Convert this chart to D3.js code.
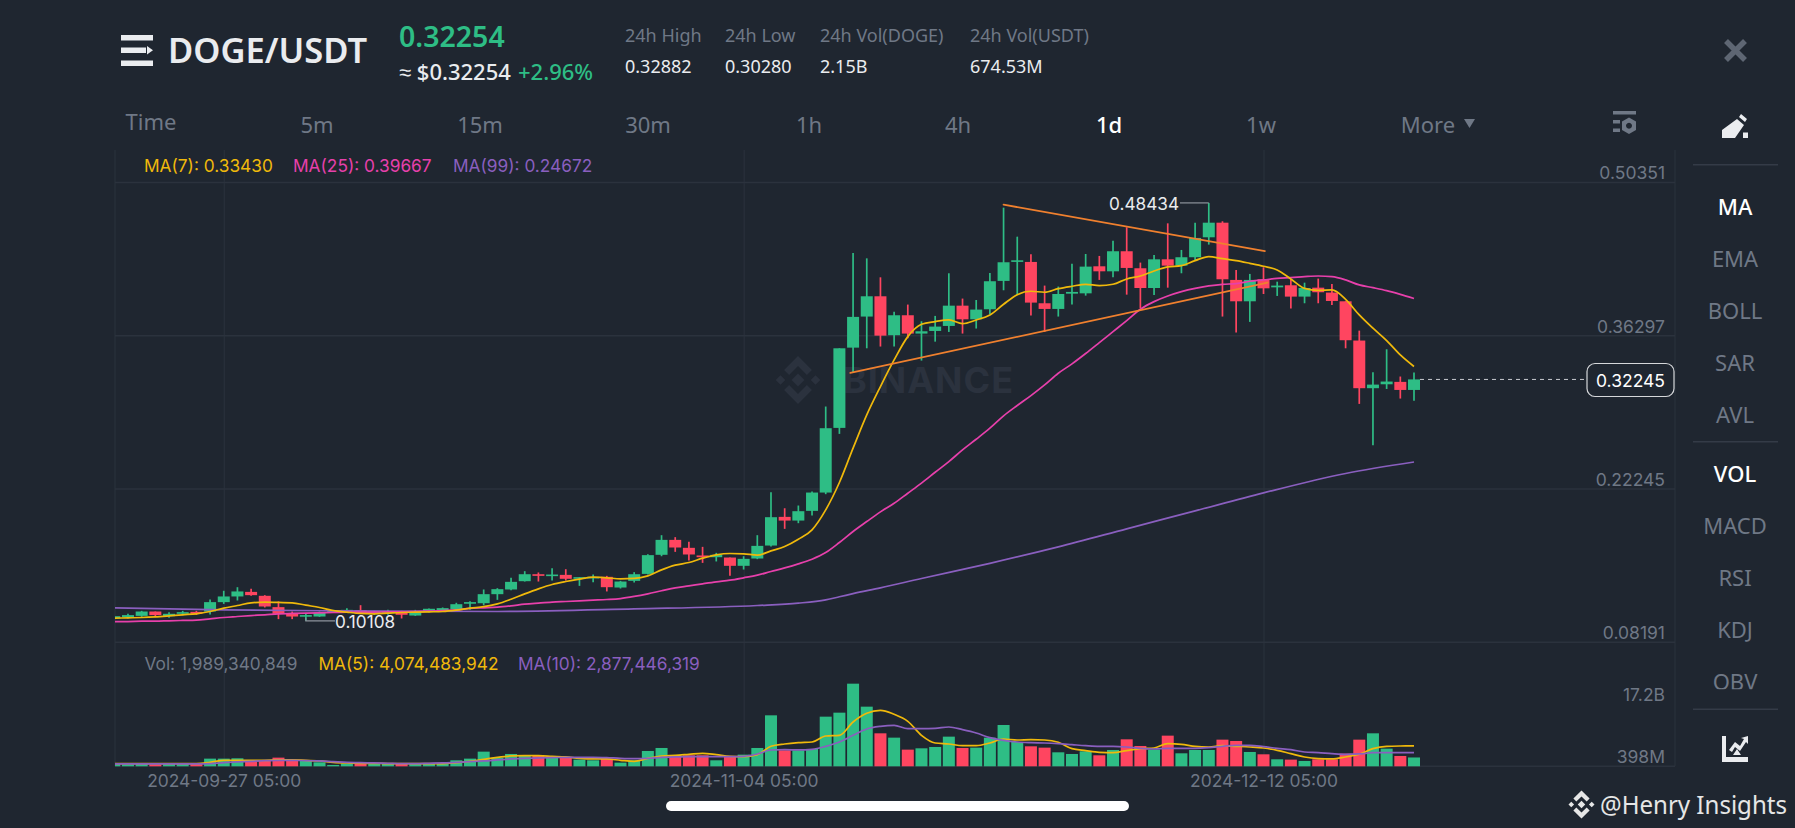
<!DOCTYPE html>
<html>
<head>
<meta charset="utf-8">
<script src="https://cdn.jsdelivr.net/npm/d3@7"></script>
<style>
  html, body { margin: 0; padding: 0; background: #1f2630; overflow: hidden; }
  text { font-family: "Noto Sans", sans-serif; }
  .chartfont text, text.chartfont { font-family: Inter, sans-serif; }
</style>
</head>
<body>
<div id="chart"></div>
<script>
// daily candles, 2024-09-19 to 2024-12-23
const opens = [.1032,.1044,.1056,.1096,.1053,.1075,.1093,.1096,.1182,.1234,.1276,.1240,.1136,.1075,.1050,.1050,
  .1093,.1093,.1108,.1084,.1087,.1087,.1059,.1102,.1102,.1117,.1169,.1172,.1255,.1298,.1374,.1438,
  .1426,.1432,.1399,.1405,.1414,.1316,.1377,.1441,.1616,.1753,.1680,.1610,.1594,.1591,.1515,.1582,
  .1701,.1964,.1930,.2019,.2187,.2780,.3516,.3801,.3987,.3630,.3813,.3645,.3669,.3715,.3901,.3776,
  .3868,.4128,.4305,.4302,.3923,.3871,.4011,.4014,.4262,.4216,.4400,.4244,.4063,.4326,.4268,.4345,
  .4528,.4662,.4137,.3941,.4143,.4069,.4088,.3984,.4066,.4021,.3941,.3581,.3144,.3180,.3202,.3128];
const highs = [.1053,.1075,.1102,.1096,.1090,.1102,.1102,.1206,.1286,.1319,.1304,.1246,.1188,.1096,.1075,.1096,
  .1111,.1127,.1154,.1102,.1111,.1102,.1111,.1124,.1133,.1176,.1191,.1298,.1310,.1405,.1466,.1454,
  .1493,.1484,.1411,.1435,.1423,.1377,.1457,.1622,.1796,.1778,.1735,.1689,.1634,.1591,.1603,.1796,
  .2190,.2043,.2068,.2196,.2976,.3510,.4384,.4335,.4161,.3846,.3911,.3758,.3807,.4198,.3966,.3953,
  .4201,.4800,.4534,.4372,.4085,.4076,.4286,.4375,.4357,.4497,.4620,.4296,.4366,.4656,.4412,.4662,
  .48434,.4675,.4228,.4192,.4253,.4121,.4143,.4112,.4149,.4100,.3941,.3672,.3290,.3501,.3251,.32882];
const lows = [.1020,.1032,.1047,.1044,.1038,.1063,.1066,.1069,.1166,.1197,.1240,.1133,.1026,.1026,.10108,.1047,
  .1087,.1087,.1072,.1066,.1066,.1032,.1056,.1087,.1093,.1102,.1111,.1154,.1203,.1292,.1371,.1371,
  .1380,.1380,.1331,.1365,.1280,.1307,.1362,.1435,.1603,.1643,.1564,.1542,.1555,.1423,.1481,.1576,
  .1692,.1854,.1906,.1976,.2172,.2725,.3287,.3510,.3526,.3526,.3602,.3397,.3571,.3660,.3645,.3691,
  .3825,.4042,.3999,.3810,.3660,.3801,.3911,.3993,.4137,.4161,.4002,.3877,.3999,.4066,.4198,.4320,
  .4461,.3801,.3654,.3752,.4008,.3990,.3874,.3923,.3923,.3908,.3510,.3000,.2621,.3137,.3049,.30280];
const closes = [.1053,.1063,.1096,.1063,.1075,.1090,.1075,.1182,.1234,.1280,.1246,.1142,.1075,.1050,.1063,.1087,
  .1102,.1111,.1090,.1093,.1099,.1066,.1096,.1121,.1127,.1163,.1182,.1255,.1301,.1368,.1438,.1423,
  .1435,.1396,.1411,.1414,.1319,.1371,.1438,.1613,.1753,.1683,.1619,.1594,.1616,.1515,.1579,.1698,
  .1961,.1930,.2016,.2187,.2777,.3510,.3798,.3987,.3626,.3813,.3645,.3666,.3709,.3901,.3776,.3865,
  .4125,.4299,.4317,.3929,.3871,.4008,.4027,.4259,.4216,.4400,.4247,.4063,.4326,.4268,.4345,.4522,
  .4662,.4143,.3941,.4137,.4060,.4085,.3984,.4063,.4024,.3944,.3584,.3144,.3177,.3205,.3128,.32245];

// price moving averages
const ma7 = [.1035,.1038,.1041,.1047,.1056,.1066,.1075,.1096,.1127,.1151,.1176,.1182,.1179,.1176,.1154,.1133,
  .1105,.1090,.1078,.1075,.1081,.1087,.1090,.1093,.1096,.1108,.1127,.1140,.1166,.1209,.1258,.1304,
  .1344,.1371,.1393,.1411,.1405,.1396,.1399,.1423,.1478,.1521,.1545,.1585,.1616,.1628,.1625,.1613,
  .1652,.1692,.1759,.1845,.2028,.2279,.2594,.2899,.3159,.3403,.3617,.3730,.3755,.3770,.3736,.3770,
  .3816,.3914,.4002,.4033,.4024,.4057,.4079,.4097,.4085,.4097,.4146,.4173,.4219,.4256,.4268,.4314,
  .4351,.4332,.4314,.4289,.4262,.4228,.4146,.4060,.4042,.4045,.3959,.3816,.3694,.3581,.3449,.3343];
const ma25 = [.1004,.1004,.1007,.1007,.1011,.1014,.1017,.1029,.1041,.1050,.1059,.1066,.1075,.1078,.1081,.1084,
  .1087,.1090,.1090,.1090,.1093,.1093,.1096,.1099,.1105,.1111,.1124,.1130,.1136,.1148,.1163,.1173,
  .1182,.1188,.1194,.1200,.1206,.1215,.1234,.1258,.1286,.1313,.1331,.1350,.1368,.1383,.1405,.1429,
  .1463,.1496,.1533,.1576,.1637,.1729,.1830,.1921,.2010,.2089,.2181,.2273,.2373,.2471,.2578,.2676,
  .2777,.2890,.2985,.3076,.3174,.3281,.3367,.3462,.3562,.3663,.3764,.3868,.3938,.3990,.4030,.4060,
  .4082,.4097,.4103,.4125,.4137,.4152,.4158,.4167,.4173,.4167,.4137,.4091,.4066,.4039,.4005,.39667];
const ma99Days = [0,8,16,28,38,47,50,52,53,54,56,59,64,69,74,79,84,90,95];
const ma99 = [.1130,.1111,.1102,.1096,.1120,.1151,.1173,.1203,.1231,.1260,.1313,.1399,.1538,.1689,.1854,.2019,.2184,.2362,.24672];

// drawn trend lines: [candle, price]
const trendUpper = [[65, .4827], [84.1, .4402]];
const trendLower = [[53.8, .3284], [84.3, .4112]];

// volume in billions
const volumes = [.818,.758,.818,.758,.818,.818,.818,1.778,1.778,1.838,1.238,1.358,1.958,1.358,1.358,1.118,
  .638,.878,.938,.938,.878,.938,.938,.878,.878,1.478,1.778,3.038,1.958,2.618,2.378,2.258,
  2.198,1.958,1.598,1.478,1.778,1.058,1.478,3.158,3.698,2.378,2.378,2.378,1.478,2.078,2.498,3.698,
  9.578,3.278,3.278,3.518,9.338,10.058,15.278,11.138,6.338,5.558,3.398,3.638,3.878,5.738,3.698,3.758,
  5.558,7.838,4.778,3.998,3.758,2.918,2.618,3.098,2.378,3.338,5.258,4.058,3.398,5.918,2.738,3.338,
  3.338,5.198,4.958,2.978,2.558,1.658,1.598,1.358,1.658,1.658,2.678,5.198,6.338,3.578,2.258,1.989];
const volMa5 = [.878,.878,.878,.878,.878,.878,.878,1.118,1.478,1.478,1.478,1.478,1.538,1.538,1.478,1.358,
  1.118,.998,.938,.938,.878,.878,.878,.878,.878,1.058,1.298,1.658,2.018,2.258,2.318,2.318,
  2.198,2.078,1.838,1.718,1.718,1.478,1.298,1.838,2.258,2.378,2.558,2.738,2.498,2.198,2.138,2.498,
  3.998,4.418,4.658,4.778,5.858,5.978,8.378,9.938,10.478,9.758,8.498,5.978,4.598,4.418,4.118,4.118,
  4.598,5.318,5.138,5.198,5.138,4.718,3.578,3.218,2.918,2.858,3.218,3.578,3.698,4.478,4.358,3.998,
  3.878,4.118,3.998,3.878,3.698,3.278,2.678,2.078,1.778,1.718,2.078,2.558,3.578,3.998,4.058,4.074];
const volMa10 = [.818,.818,.818,.818,.818,.818,.818,.878,1.058,1.178,1.298,1.418,1.478,1.478,1.418,1.358,
  1.238,1.118,1.058,.998,.938,.878,.878,.938,.998,1.118,1.238,1.358,1.538,1.718,1.838,1.898,
  1.958,2.018,2.018,2.018,1.958,1.838,1.778,1.838,2.018,2.078,2.138,2.138,2.138,2.138,2.198,2.618,
  3.338,3.398,3.338,3.458,3.998,4.778,5.978,7.118,7.598,7.778,7.178,7.178,7.238,7.478,6.998,6.398,
  5.558,5.078,4.778,4.658,4.598,4.478,4.298,4.118,3.998,3.998,3.878,3.638,3.518,3.638,3.638,3.638,
  3.758,3.998,4.178,4.178,3.938,3.638,3.398,2.978,2.858,2.678,2.558,2.618,2.858,2.858,2.858,2.877];

// axis ticks and labels
const priceTicks = [.50351, .36297, .22245, .08191];
const dateDays = [8, 46, 84];
const dateLabels = ["2024-09-27 05:00", "2024-11-04 05:00", "2024-12-12 05:00"];
const lastPrice = .32245;

const tabNames = ["Time", "5m", "15m", "30m", "1h", "4h", "1d", "1w", "More"];
const tabCentres = [151, 317, 480, 648, 809, 958, 1109, 1261, 1428];
const sideTop = ["MA", "EMA", "BOLL", "SAR", "AVL"];
const sideBottom = ["VOL", "MACD", "RSI", "KDJ", "OBV"];
const statNames = ["24h High", "24h Low", "24h Vol(DOGE)", "24h Vol(USDT)"];
const statValues = ["0.32882", "0.30280", "2.15B", "674.53M"];
const statLeft = [625, 725, 820, 970];

const bg = "#1f2630", grid = "#2b323d", muted = "#6f7886", up = "#2ebd85", down = "#ff4560";
const cMa7 = "#f0b90b", cMa25 = "#e740ab", cMa99 = "#8a5fbf", cTrend = "#f0802e";

const svg = d3.select("#chart").append("svg").attr("width", 1795).attr("height", 828)
    .style("display", "block").style("background", bg);

// scales
const left = 115, right = 1675;
const x = d3.scaleLinear().domain([0, 95]).range([114.3, 1414]);
const y = d3.scaleLinear().domain([.08191, .50351]).range([641.7, 182]);
const yVol = d3.scaleLinear().domain([.398, 17.2]).range([766.3, 673]);

svg.append("defs").append("clipPath").attr("id", "pane").append("rect")
    .attr("x", left).attr("y", 150).attr("width", right - left).attr("height", 620);

// binance logo is used twice
function logo(g, cx, cy, r, color) {
    const s = g.append("g").attr("transform", `translate(${cx},${cy}) scale(${r})`).attr("fill", color);
    s.append("path").attr("d", "M0,-.27L.27,0L0,.27L-.27,0Z");
    s.append("path").attr("d", "M-.73,-.2L-.53,0L-.73,.2L-.93,0Z");
    s.append("path").attr("d", "M.73,-.2L.93,0L.73,.2L.53,0Z");
    s.append("path").attr("d", "M0,-1L.58,-.42L.37,-.21L0,-.58L-.37,-.21L-.58,-.42Z");
    s.append("path").attr("d", "M0,1L.58,.42L.37,.21L0,.58L-.37,.21L-.58,.42Z");
}

// watermark
logo(svg, 798, 380, 24, "#2b323e");
svg.append("text").attr("x", 843).attr("y", 393).attr("fill", "#2b323e")
    .attr("font-size", 36).attr("font-weight", 700).attr("textLength", 170)
    .style("font-family", "Inter").text("BINANCE");

// vertical grid + date labels
const xAxis = d3.axisBottom(x).tickValues(dateDays).tickSize(-616)
    .tickFormat((d, i) => dateLabels[i]);
const xg = svg.append("g").attr("class", "chartfont").attr("transform", "translate(0,766)").call(xAxis);
xg.select(".domain").remove();
xg.selectAll("line").attr("stroke", grid).attr("stroke-width", 1);
xg.selectAll("text").attr("fill", muted).attr("font-size", 17.4).attr("y", 5).attr("dy", "0.9em");

svg.selectAll(".edge").data([left, right]).join("line").attr("class", "edge")
    .attr("x1", d => d).attr("x2", d => d).attr("y1", 150).attr("y2", 766)
    .attr("stroke", grid);

// horizontal grid + price labels
const yAxis = d3.axisLeft(y).tickValues(priceTicks).tickSize(right - left)
    .tickFormat(d3.format(".5f"));
const yg = svg.append("g").attr("class", "chartfont").attr("transform", `translate(${right},0)`).call(yAxis);
yg.select(".domain").remove();
yg.selectAll("line").attr("stroke", grid).attr("stroke-width", 1.5);
yg.selectAll("text").attr("fill", muted).attr("font-size", 17.5).attr("x", -10).attr("dy", "-0.18em");

// volume baseline
svg.append("line").attr("x1", left).attr("x2", right).attr("y1", yVol(.398)).attr("y2", yVol(.398))
    .attr("stroke", grid).attr("stroke-width", 1.5);
svg.selectAll(".volTick").data(["17.2B", "398M"]).join("text").attr("class", "volTick chartfont")
    .attr("x", 1665).attr("y", (d, i) => i ? yVol(.398) - 3.5 : 701).attr("text-anchor", "end")
    .attr("fill", muted).attr("font-size", 17.5).text(d => d);

const pane = svg.append("g").attr("clip-path", "url(#pane)");
const idx = d3.range(closes.length);
const colour = i => closes[i] >= opens[i] ? up : down;

// candles
pane.selectAll(".wick").data(idx).join("line").attr("class", "wick")
    .attr("x1", x).attr("x2", x).attr("y1", i => y(highs[i])).attr("y2", i => y(lows[i]))
    .attr("stroke", colour).attr("stroke-width", 1.7);
pane.selectAll(".body").data(idx).join("rect").attr("class", "body")
    .attr("x", i => x(i) - 6).attr("width", 12)
    .attr("y", i => y(Math.max(opens[i], closes[i])))
    .attr("height", i => Math.max(1.6, Math.abs(y(opens[i]) - y(closes[i]))))
    .attr("fill", colour);

// volume bars
pane.selectAll(".vol").data(idx).join("rect").attr("class", "vol")
    .attr("x", i => x(i) - 6).attr("width", 12)
    .attr("y", i => yVol(volumes[i]))
    .attr("height", i => yVol(.398) - yVol(volumes[i]))
    .attr("fill", colour);

// moving average lines
const lineOf = (scale, xs) => d3.line().x((d, i) => x(xs ? xs[i] : i)).y(d => scale(d)).curve(d3.curveMonotoneX);
function addLine(values, scale, color, xs) {
    pane.append("path").datum(values).attr("d", lineOf(scale, xs)).attr("fill", "none")
        .attr("stroke", color).attr("stroke-width", 1.7).attr("stroke-linejoin", "round");
}
addLine(ma99, y, cMa99, ma99Days);
addLine(ma25, y, cMa25);
addLine(ma7, y, cMa7);
addLine(volMa5, yVol, cMa7);
addLine(volMa10, yVol, cMa99);

// trend lines
[trendUpper, trendLower].forEach(t => {
    pane.append("line").attr("x1", x(t[0][0])).attr("y1", y(t[0][1])).attr("x2", x(t[1][0])).attr("y2", y(t[1][1]))
        .attr("stroke", cTrend).attr("stroke-width", 1.8).attr("stroke-linecap", "round");
});

// high / low markers
svg.append("path").attr("fill", "none").attr("stroke", "#8d939c").attr("stroke-width", 1.2)
    .attr("d", `M1180,${y(.48434)}H${x(80)}`);
svg.append("path").attr("fill", "none").attr("stroke", "#8d939c").attr("stroke-width", 1.2)
    .attr("d", `M${x(14)},${y(.10108) - 3}V${y(.10108)}H335`);
svg.append("text").attr("class", "chartfont").attr("x", 1179).attr("y", 204).attr("dy", "0.35em")
    .attr("text-anchor", "end").attr("fill", "#eaecef").attr("font-size", 17.2).text("0.48434");
svg.append("text").attr("class", "chartfont").attr("x", 335).attr("y", 622).attr("dy", "0.35em")
    .attr("fill", "#eaecef").attr("font-size", 17.2).text("0.10108");

// last price
svg.append("line").attr("x1", x(95) + 6).attr("x2", 1587).attr("y1", y(lastPrice)).attr("y2", y(lastPrice))
    .attr("stroke", "#c9ccd1").attr("stroke-width", 1).attr("stroke-dasharray", "4 4");
svg.append("rect").attr("x", 1587).attr("y", 363.5).attr("width", 87).attr("height", 33).attr("rx", 8)
    .attr("fill", bg).attr("stroke", "#d5d7da").attr("stroke-width", 1.2);
svg.append("text").attr("class", "chartfont").attr("x", 1630.5).attr("y", 380.5).attr("dy", "0.35em")
    .attr("text-anchor", "middle").attr("fill", "#ffffff").attr("font-size", 17.5).text("0.32245");

// legends
const legend = (txt, px, py, col) => svg.append("text").attr("class", "chartfont").attr("x", px).attr("y", py)
    .attr("dy", "0.35em").attr("fill", col).attr("font-size", 17.3).text(txt);
legend("MA(7): 0.33430", 144, 166, cMa7);
legend("MA(25): 0.39667", 293, 166, cMa25);
legend("MA(99): 0.24672", 453, 166, cMa99);
legend("Vol: 1,989,340,849", 144.5, 664, muted);
legend("MA(5): 4,074,483,942", 318.5, 664, cMa7);
legend("MA(10): 2,877,446,319", 518, 664, cMa99);

// header
const head = svg.append("g");
head.selectAll(".bar").data([[121, 35, 32, 5.5], [121, 47.5, 25, 5.5], [121, 60.5, 32, 5.5]]).join("rect")
    .attr("x", d => d[0]).attr("y", d => d[1]).attr("width", d => d[2]).attr("height", d => d[3]).attr("fill", "#eaecef");
head.append("path").attr("d", "M147,46L153,50.3L147,54.5Z").attr("fill", "#eaecef");
head.append("text").attr("x", 168).attr("y", 63).attr("fill", "#eaecef").attr("font-size", 34.5).attr("font-weight", 600).text("DOGE/USDT");
head.append("text").attr("x", 399).attr("y", 47).attr("fill", up).attr("font-size", 28.5).attr("font-weight", 600).text("0.32254");
head.append("text").attr("x", 399).attr("y", 80).attr("fill", "#eaecef").attr("font-size", 22).attr("font-weight", 500).text("≈ $0.32254");
head.append("text").attr("x", 518).attr("y", 80).attr("fill", up).attr("font-size", 22).attr("font-weight", 500).text("+2.96%");
head.selectAll(".statName").data(statNames).join("text").attr("class", "statName")
    .attr("x", (d, i) => statLeft[i]).attr("y", 42).attr("fill", muted).attr("font-size", 18).text(d => d);
head.selectAll(".statValue").data(statValues).join("text").attr("class", "statValue")
    .attr("x", (d, i) => statLeft[i]).attr("y", 73).attr("fill", "#eaecef").attr("font-size", 18).text(d => d);

// timeframe tabs
head.selectAll(".tab").data(tabNames).join("text").attr("class", "tab")
    .attr("x", (d, i) => tabCentres[i]).attr("y", (d, i) => i ? 125 : 122).attr("dy", "0.35em").attr("text-anchor", "middle")
    .attr("fill", d => d == "1d" ? "#ffffff" : muted).attr("font-weight", d => d == "1d" ? 500 : 400)
    .attr("font-size", 22).text(d => d);
head.append("path").attr("d", "M1464,119H1475L1469.5,128Z").attr("fill", muted);

// settings icon
const gear = head.append("g").attr("fill", muted);
gear.append("rect").attr("x", 1613).attr("y", 111).attr("width", 23).attr("height", 3.5);
gear.append("rect").attr("x", 1613).attr("y", 120).attr("width", 7).attr("height", 3.5);
gear.append("rect").attr("x", 1613).attr("y", 128.5).attr("width", 7).attr("height", 3.5);
gear.append("path").attr("fill-rule", "evenodd")
    .attr("d", "M1629,117.5L1636,121.5V130L1629,134L1622,130V121.5ZM1629,122.8a3,3 0 1,0 .01,0Z");

// close button
head.append("path").attr("d", "M1726,41L1745,60M1745,41L1726,60").attr("stroke", "#5e6673")
    .attr("stroke-width", 5.5).attr("fill", "none");

// right side panel
const side = svg.append("g");
side.selectAll(".sep").data([164.7, 441.7, 709.3]).join("line").attr("class", "sep")
    .attr("x1", 1693).attr("x2", 1778).attr("y1", d => d).attr("y2", d => d)
    .attr("stroke", "#343b47").attr("stroke-width", 1.5);
side.append("path").attr("fill", "#eaecef")
    .attr("d", "M1737,119L1744,125L1735,138H1722V130ZM1741,114L1747,119L1745,122L1739,117ZM1743,132.5H1748V138H1743Z");
svg.append("defs").append("clipPath").attr("id", "sideClip").append("rect")
    .attr("x", 1690).attr("y", 170).attr("width", 90).attr("height", 519.3);
const sideItems = side.append("g").attr("clip-path", "url(#sideClip)");
sideItems.selectAll(".top").data(sideTop).join("text").attr("class", "top")
    .attr("x", 1735).attr("y", (d, i) => 207.5 + i * 52).attr("dy", "0.35em").attr("text-anchor", "middle")
    .attr("fill", d => d == "MA" ? "#ffffff" : muted).attr("font-weight", d => d == "MA" ? 500 : 400)
    .attr("font-size", 22).text(d => d);
sideItems.selectAll(".bottom").data(sideBottom).join("text").attr("class", "bottom")
    .attr("x", 1735).attr("y", (d, i) => 474.5 + i * 52).attr("dy", "0.35em").attr("text-anchor", "middle")
    .attr("fill", d => d == "VOL" ? "#ffffff" : muted).attr("font-weight", d => d == "VOL" ? 500 : 400)
    .attr("font-size", 22).text(d => d);
side.append("path").attr("fill", "#eaecef")
    .attr("d", "M1722,736H1726V757H1748V762H1722ZM1729,750L1735,742L1740,746L1744,739L1741,738L1748,736L1748,744L1746,742L1740,751L1735,747L1732,752ZM1733,755L1737,749L1741,755Z");

// home indicator + credit
svg.append("rect").attr("x", 666).attr("y", 801).attr("width", 463).attr("height", 10).attr("rx", 5).attr("fill", "#ffffff");
logo(svg, 1581.5, 804.5, 14, "#e6e6e6");
svg.append("text").attr("x", 1600).attr("y", 814).attr("fill", "#e6e6e6").attr("font-size", 26)
    .attr("textLength", 187).attr("lengthAdjust", "spacingAndGlyphs").text("@Henry Insights");
</script>
</body>
</html>
